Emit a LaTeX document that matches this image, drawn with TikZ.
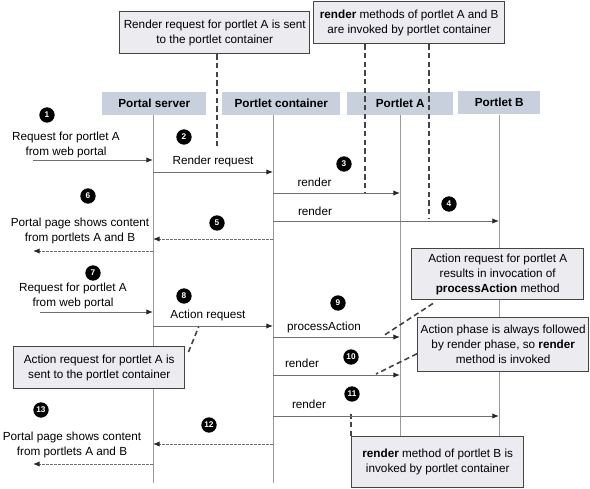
\documentclass[tikz,border=0pt]{standalone}
\usepackage{fontspec}
\setmainfont{Liberation Sans}
\usetikzlibrary{arrows.meta,calc}
\definecolor{notefill}{HTML}{EBEBF0}
\definecolor{headfill}{HTML}{C8D0DE}
\definecolor{lifegray}{HTML}{9A9A9A}
\definecolor{msggray}{HTML}{707070}
\definecolor{edgegray}{HTML}{444444}
\tikzset{
  txt/.style={font=\fontsize{8.8}{11.25}\selectfont,align=center,inner sep=0pt},
  note/.style={txt,draw=edgegray,fill=notefill,line width=1.1pt,anchor=north west},
  head/.style={fill=headfill,font=\bfseries\fontsize{8.8}{11}\selectfont,inner sep=0pt,anchor=north west,minimum height=17.25pt},
  num/.style={circle,fill=black,text=white,font=\bfseries\fontsize{6.2}{7}\selectfont,inner sep=0pt,minimum size=11.5pt},
  life/.style={draw=lifegray,line width=0.75pt},
  msg/.style={draw=msggray,line width=0.75pt,-{Latex[length=5pt,width=4pt,color=black!85]}},
  reply/.style={msg,dash pattern=on 2pt off 1pt},
  pointer/.style={draw=edgegray,line width=1.2pt,dash pattern=on 4pt off 2.5pt}
}
\begin{document}
\begin{tikzpicture}[x=0.75pt,y=-0.75pt]
\useasboundingbox (0,0) rectangle (590,489);
%headers
\node[head,minimum width=78pt](ps)at(102,92){Portal server};
\node[head,minimum width=88.5pt](pc)at(222,92){Portlet container};
\node[head,minimum width=79.5pt](pa)at(347,92){Portlet A};
\node[head,minimum width=61.5pt](pb)at(458,91){Portlet B};
%lifelines
\coordinate(psl)at(153,115);
\coordinate(pcl)at(273,115);
\coordinate(pal)at(400,115);
\coordinate(pbl)at(499,115);
\coordinate(web)at(33,115);
\draw[life](psl)--(psl|-0,483);
\draw[life](pcl)--(pcl|-0,483);
\draw[life](pal)--(pal|-0,436);
\draw[life](pbl)--(pbl|-0,436);
%notes
\node[note,minimum width=142.5pt,minimum height=31.5pt](rq)at(119,11){Render request for portlet A is sent\\to the portlet container};
\node[note,minimum width=143.25pt,minimum height=31.5pt](inv)at(313,1){\textbf{render} methods of portlet A and B\\are invoked by portlet container};
\node[note,minimum width=129pt,minimum height=38.25pt](pn)at(411,248){Action request for portlet A\\results in invocation of\\\textbf{processAction} method};
\node[note,minimum width=128.25pt,minimum height=40.5pt](ph)at(417,317){Action phase is always followed\\by render phase, so \textbf{render}\\method is invoked};
\node[note,minimum width=128.25pt,minimum height=31.5pt](ar)at(13,346){Action request for portlet A is\\sent to the portlet container};
\node[note,minimum width=129pt,minimum height=38.25pt](rb)at(351,436){\textbf{render} method of portlet B is\\invoked by portlet container};
%pointers
\coordinate(p2)at(217,147);
\coordinate(p3)at(365,193);
\coordinate(p4)at(429,218);
\coordinate(p9)at(383,336);
\coordinate(p10)at(376,374);
\coordinate(p8)at(199,326);
\coordinate(p11)at(351,414);
\draw[pointer](rq.south-|p2)--(p2);
\draw[pointer](inv.south-|p3)--(p3);
\draw[pointer](inv.south-|p4)--(p4);
\draw[pointer]([xshift=16.5pt,yshift=-2.25pt]pn.south west)--(p9);
\draw[pointer]([yshift=-6.75pt]ph.west)--(p10);
\draw[pointer]([xshift=2.25pt,yshift=-4.5pt]ar.north east)--(p8);
\draw[pointer](rb.north west)--(p11);
%render phase
\draw[msg](web|-0,160)--(psl|-0,160);
\draw[msg](psl|-0,172)--(pcl|-0,172);
\draw[msg](pcl|-0,193)--(pal|-0,193);
\draw[msg](pcl|-0,221)--(pbl|-0,221);
\draw[reply](pcl|-0,239)--(psl|-0,239);
\draw[reply](psl|-0,251)--(web|-0,251);
%action phase
\draw[msg]([xshift=5.25pt]web|-0,312)--(psl|-0,312);
\draw[msg](psl|-0,326)--(pcl|-0,326);
\draw[msg](pcl|-0,337)--(pal|-0,337);
\draw[msg](pcl|-0,375)--(pal|-0,375);
\draw[msg](pcl|-0,416)--(pbl|-0,416);
\draw[reply](pcl|-0,444)--(psl|-0,444);
\draw[reply](psl|-0,464)--(web|-0,464);
%labels
\node[txt](l1)at(66,144.5){Request for portlet A\\from web portal};
\node[txt](l2)at(213,161){Render request};
\node[txt](l3)at(314.5,182){render};
\node[txt](l4)at(315,211){render};
\node[txt](l6)at(80,230.5){Portal page shows content\\from portlets A and B};
\node[txt](l7)at(73,295.5){Request for portlet A\\from web portal};
\node[txt](l8)at(208,315){Action request};
\node[txt](l9)at(324,327){processAction};
\node[txt](l10)at(302,363){render};
\node[txt](l11)at(309,404){render};
\node[txt](l13)at(72,444.5){Portal page shows content\\from portlets A and B};
%step numbers
\node[num](n1)at(47,115){1};
\node[num](n2)at(184,137){2};
\node[num](n3)at(344,164){3};
\node[num](n4)at(449,204){4};
\node[num](n5)at(217,223){5};
\node[num](n6)at(88,196){6};
\node[num](n7)at(93,273){7};
\node[num](n8)at(184,296){8};
\node[num](n9)at(338,303){9};
\node[num](n10)at(351,357){10};
\node[num](n11)at(352,394){11};
\node[num](n12)at(209,425){12};
\node[num](n13)at(41,410){13};
\end{tikzpicture}
\end{document}
